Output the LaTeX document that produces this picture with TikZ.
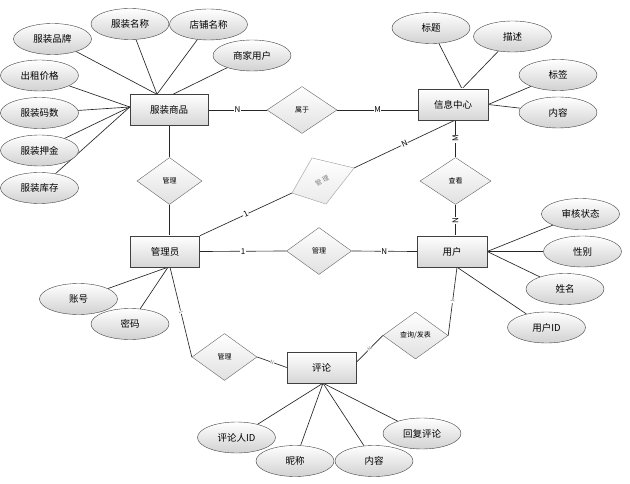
\documentclass[tikz,border=0pt]{standalone}
\usepackage{fontspec}
\setmainfont{Noto Sans CJK SC}
\usetikzlibrary{shapes.geometric,calc}
\pgfdeclarelayer{bg}
\pgfsetlayers{bg,main}
\begin{document}
\begin{tikzpicture}[x=1pt,y=-1pt,
  ent/.style={draw=black!75, top color=white, bottom color=black!16, minimum width=70pt, minimum height=31pt, inner sep=0pt, font=\fontsize{9.5}{10}\selectfont},
  attr/.style={ellipse, draw=black!75, top color=white, bottom color=black!18, minimum width=78pt, minimum height=31pt, inner sep=0pt, font=\fontsize{9.5}{10}\selectfont},
  rel/.style={diamond, draw=black!60, top color=white, bottom color=black!12, minimum width=65pt, minimum height=47pt, inner sep=0pt, font=\fontsize{7}{8}\selectfont},
  ln/.style={draw=black!85, line width=0.65pt},
  card/.style={fill=white, inner sep=0.6pt, font=\fontsize{8}{8}\selectfont},
  cards/.style={fill=white, inner sep=0.3pt, text=black!55, font=\fontsize{5}{5}\selectfont}]
\begin{pgfonlayer}{bg}
\fill[white] (0,0) rectangle (630,484);
\end{pgfonlayer}
\useasboundingbox (0,0) rectangle (630,484);

% entities
\node[ent, minimum width=78pt] (sp) at (169,110) {服装商品};
\node[ent] (xx) at (453,104.5) {信息中心};
\node[ent, minimum width=69pt] (adm) at (165,251.5) {管理员};
\node[ent] (usr) at (452,251.5) {用户};
\node[ent, minimum width=69pt] (pl) at (321.5,367.5) {评论};

% relationships
\node[rel, minimum width=70pt] (sy) at (302,110) {属于};
\node[rel] (gl1) at (169.5,181) {管理};
\node[rel, minimum width=71pt] (ck) at (455.5,181) {查看};
\node[rel] (gl2) at (319,251) {管理};
\node[rel] (gl3) at (224.5,357) {管理};
\node[rel] (cx) at (415.5,335.5) {查询/发表};

% grey tilted relationship
\coordinate (gmL) at (292,193);
\coordinate (gmT) at (312,158);
\coordinate (gmR) at (354,168);
\coordinate (gmB) at (326,204);
\fill[top color=white, bottom color=black!8, draw=black!25, line width=0.5pt] (gmL) -- (gmT) -- (gmR) -- (gmB) -- cycle;
\node[text=black!50, rotate=28, inner sep=0pt, font=\fontsize{6.5}{7}\selectfont] (gm) at (322,181) {管\kern1.5pt理};

% attributes
\node[attr] (a1) at (52.5,39) {服装品牌};
\node[attr] (a2) at (130,24) {服装名称};
\node[attr] (a3) at (208.5,24.5) {店铺名称};
\node[attr] (a4) at (252,55.5) {商家用户};
\node[attr] (a5) at (39.5,75.5) {出租价格};
\node[attr] (a6) at (39.5,113) {服装码数};
\node[attr] (a7) at (39.5,150.5) {服装押金};
\node[attr] (a8) at (39.5,188) {服装库存};

\node[attr] (b1) at (431,28) {标题};
\node[attr] (b2) at (512.5,36.5) {描述};
\node[attr] (b3) at (558,75) {标签};
\node[attr] (b4) at (558,112.5) {内容};

\node[attr] (c1) at (580.5,214) {审核状态};
\node[attr] (c2) at (582.5,251.5) {性别};
\node[attr] (c3) at (565,289) {姓名};
\node[attr] (c4) at (546.5,327.5) {用户ID};

\node[attr] (d1) at (78.5,299) {账号};
\node[attr] (d2) at (130,324) {密码};

\node[attr] (e1) at (236.5,437.5) {评论人ID};
\node[attr] (e2) at (295,461) {昵称};
\node[attr] (e3) at (374,461) {内容};
\node[attr] (e4) at (422,433.5) {回复评论};

% anchor points
\coordinate (spT) at ($(sp.north)+(-12,0)$);
\coordinate (spT2) at ($(sp.north)+(4,0)$);
\coordinate (spL) at ($(sp.west)+(0,-3)$);
\coordinate (xxT) at ($(xx.north)+(9,0)$);
\coordinate (usrS) at ($(usr.south)+(5,0)$);
\coordinate (admS) at ($(adm.south)+(3,0)$);
\coordinate (admS2) at ($(adm.south)+(5,0)$);
\coordinate (plS) at ($(pl.south)+(1.5,0)$);
\coordinate (plE) at ($(pl.east)+(0,-5)$);

\begin{pgfonlayer}{bg}
% attribute lines
\foreach \a in {a1,a2,a3} \draw[ln] (\a) -- (spT);
\draw[ln] (a4) -- (spT2);
\foreach \a in {a5,a6,a7,a8} \draw[ln] (\a) -- (spL);
\foreach \a in {b1,b2} \draw[ln] (\a) -- (xxT);
\foreach \a in {b3,b4} \draw[ln] (\a) -- (xx.east);
\foreach \a in {c1,c2,c3} \draw[ln] (\a) -- (usr.east);
\draw[ln] (c4) -- (usrS);
\foreach \a in {d1,d2} \draw[ln] (\a) -- (admS);
\foreach \a in {e1,e2,e3,e4} \draw[ln] (\a) -- (plS);

% relationship lines
\draw[ln] (sp.east) -- node[card]{N} (sy.west);
\draw[ln] (sy.east) -- node[card]{M} (sy.east -| xx.west);
\draw[ln] ($(sp.south)+(0.5,0)$) -- (gl1.north);
\draw[ln] (gl1.south) -- (gl1.south |- adm.north);
\draw[ln] (adm.east) -- node[card]{1} (gl2.west);
\draw[ln] (gl2.east) -- node[card]{N} (usr.west);
\draw[ln] (ck.north |- xx.south) -- node[card, rotate=90]{M} (ck.north);
\draw[ln] (ck.south) -- node[card, rotate=90]{N} (ck.south |- usr.north);
\draw[ln] (adm.north east) -- node[card, rotate=27]{1} (gmL);
\draw[ln] (gmR) -- node[card, rotate=25]{N} ($(xx.south)+(2,0)$);
\draw[ln] (admS2) -- node[cards, sloped]{1} (gl3.west);
\draw[ln] (gl3.east) -- node[cards, sloped]{N} (pl.west);
\draw[ln] (plE) -- node[cards, sloped]{N} (cx.west);
\draw[ln] (cx.east) -- node[cards, sloped]{1} (usrS);
\end{pgfonlayer}
\end{tikzpicture}
\end{document}
